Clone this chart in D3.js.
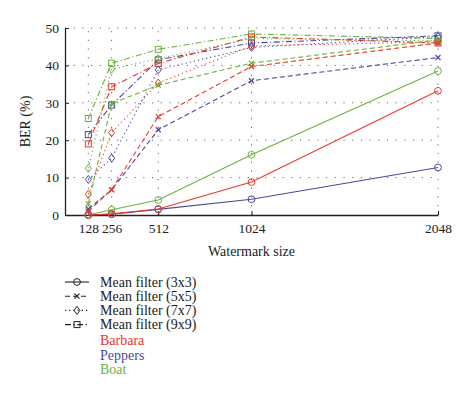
<!DOCTYPE html>
<html>
<head>
<meta charset="utf-8">
<script src="https://cdn.jsdelivr.net/npm/d3@7"></script>
<style>
	body { margin: 0; background: #fff; }
	text { font-family: 'Liberation Serif', 'DejaVu Serif', serif; fill: #222; }
</style>
</head>
<body>
<svg id="chart" width="474" height="395"></svg>
<script>
// watermark sizes on the x axis
const sizes = [128, 256, 512, 1024, 2048]
const yTicks = [0, 10, 20, 30, 40, 50]

// BER (%) per image and filter
const barbara3 = [0, 0.3, 1.6, 8.8, 33.2]
const peppers3 = [0, 0.2, 1.5, 4.2, 12.7]
const boat3 = [0, 1.4, 4.0, 16.1, 38.5]
const barbara5 = [1.0, 6.8, 26.3, 39.7, 46.0]
const peppers5 = [1.6, 6.7, 22.8, 35.9, 42.1]
const boat5 = [3.0, 29.8, 34.7, 40.6, 46.8]
const barbara7 = [5.5, 22.0, 35.3, 45.2, 46.3]
const peppers7 = [9.5, 15.2, 38.8, 44.8, 47.7]
const boat7 = [12.5, 39.0, 41.8, 47.2, 46.6]
const barbara9 = [19.0, 34.3, 40.5, 47.6, 46.0]
const peppers9 = [21.5, 29.4, 41.5, 46.0, 47.9]
const boat9 = [25.8, 40.6, 44.3, 48.4, 47.2]

const filters = ['Mean filter (3x3)', 'Mean filter (5x5)', 'Mean filter (7x7)', 'Mean filter (9x9)']
const images = ['Barbara', 'Peppers', 'Boat']

const colors = { Barbara: '#e8392c', Peppers: '#4c4a9a', Boat: '#6cb33f' }
const dashes = ['none', '5,3', '1.2,3', '6,2.5,1.2,2.5']
const markers = ['circle', 'cross', 'diamond', 'square']

const series = [
	{ img: 'Barbara', f: 0, v: barbara3 },
	{ img: 'Peppers', f: 0, v: peppers3 },
	{ img: 'Boat', f: 0, v: boat3 },
	{ img: 'Barbara', f: 1, v: barbara5 },
	{ img: 'Peppers', f: 1, v: peppers5 },
	{ img: 'Boat', f: 1, v: boat5 },
	{ img: 'Barbara', f: 2, v: barbara7 },
	{ img: 'Peppers', f: 2, v: peppers7 },
	{ img: 'Boat', f: 2, v: boat7 },
	{ img: 'Barbara', f: 3, v: barbara9 },
	{ img: 'Peppers', f: 3, v: peppers9 },
	{ img: 'Boat', f: 3, v: boat9 }
]

const svg = d3.select('#chart')
const x = d3.scaleLinear().domain([0, 2048]).range([65, 438])
const y = d3.scaleLinear().domain([0, 50]).range([215, 28])

// dotted grid
const grid = svg.append('g')
	.attr('stroke', '#666')
	.attr('stroke-width', 1)
	.attr('stroke-dasharray', '1.2,7.5')
grid.selectAll('.hg')
	.data(yTicks.slice(1))
	.enter()
	.append('line')
	.attr('x1', x(0)).attr('x2', x(2048))
	.attr('y1', d => y(d)).attr('y2', d => y(d))
grid.selectAll('.vg')
	.data(sizes)
	.enter()
	.append('line')
	.attr('x1', d => x(d)).attr('x2', d => x(d))
	.attr('y1', y(0)).attr('y2', y(50))

// axes
const xAxis = svg.append('g')
	.attr('transform', `translate(0,${y(0)})`)
	.call(d3.axisBottom(x).tickValues(sizes).tickFormat(d3.format('d'))
		.tickSizeInner(-4).tickSizeOuter(0).tickPadding(8))
const yAxis = svg.append('g')
	.attr('transform', `translate(${x(0)},0)`)
	.call(d3.axisLeft(y).tickValues(yTicks).tickSizeInner(-4).tickSizeOuter(0).tickPadding(6))
;[xAxis, yAxis].forEach(a => {
	a.select('.domain').attr('stroke', '#222').attr('stroke-width', 1.3)
	a.selectAll('.tick line').attr('stroke', '#222')
	a.selectAll('.tick text').attr('font-size', 13.5).attr('fill', '#222')
})

svg.append('text')
	.attr('x', x(1024)).attr('y', 256)
	.attr('text-anchor', 'middle')
	.attr('font-size', 14)
	.text('Watermark size')
svg.append('text')
	.attr('transform', `translate(30,${y(25)}) rotate(-90)`)
	.attr('text-anchor', 'middle')
	.attr('font-size', 14)
	.text('BER (%)')

function drawMarker(g, type, cx, cy, color) {
	if (type === 'circle') {
		g.append('circle').attr('cx', cx).attr('cy', cy).attr('r', 3.4)
			.attr('fill', 'none').attr('stroke', color).attr('stroke-width', 1)
	} else if (type === 'cross') {
		g.append('path').attr('d', `M${cx - 2.5},${cy - 2.5}L${cx + 2.5},${cy + 2.5}M${cx - 2.5},${cy + 2.5}L${cx + 2.5},${cy - 2.5}`)
			.attr('stroke', color).attr('stroke-width', 1.2)
	} else if (type === 'diamond') {
		g.append('path').attr('d', `M${cx},${cy - 4}L${cx + 3},${cy}L${cx},${cy + 4}L${cx - 3},${cy}Z`)
			.attr('fill', 'none').attr('stroke', color).attr('stroke-width', 1)
	} else {
		g.append('rect').attr('x', cx - 3).attr('y', cy - 3).attr('width', 6).attr('height', 6)
			.attr('fill', 'none').attr('stroke', color).attr('stroke-width', 1)
	}
}

const line = d3.line()
	.x((d, i) => x(sizes[i]))
	.y(d => y(d))

const plot = svg.append('g')
series.slice().reverse().forEach(s => {
	const c = colors[s.img]
	plot.append('path')
		.attr('d', line(s.v))
		.attr('fill', 'none')
		.attr('stroke', c)
		.attr('stroke-width', 1.1)
		.attr('stroke-dasharray', dashes[s.f])
	s.v.forEach((v, i) => drawMarker(plot, markers[s.f], x(sizes[i]), y(v), c))
})

// legend
const legend = svg.append('g')
filters.forEach((f, i) => {
	const ly = 282 + i * 14.2
	legend.append('line')
		.attr('x1', 65).attr('x2', 89)
		.attr('y1', ly).attr('y2', ly)
		.attr('stroke', '#222').attr('stroke-width', 1.1)
		.attr('stroke-dasharray', dashes[i])
	drawMarker(legend, markers[i], 77, ly, '#222')
	legend.append('text')
		.attr('x', 100).attr('y', ly + 4.5)
		.attr('font-size', 14)
		.text(f)
})
images.forEach((im, i) => {
	legend.append('text')
		.attr('x', 100).attr('y', 282 + (i + 4) * 14.6 + 4.5)
		.attr('font-size', 14)
		.style('fill', colors[im])
		.text(im)
})
</script>
</body>
</html>
